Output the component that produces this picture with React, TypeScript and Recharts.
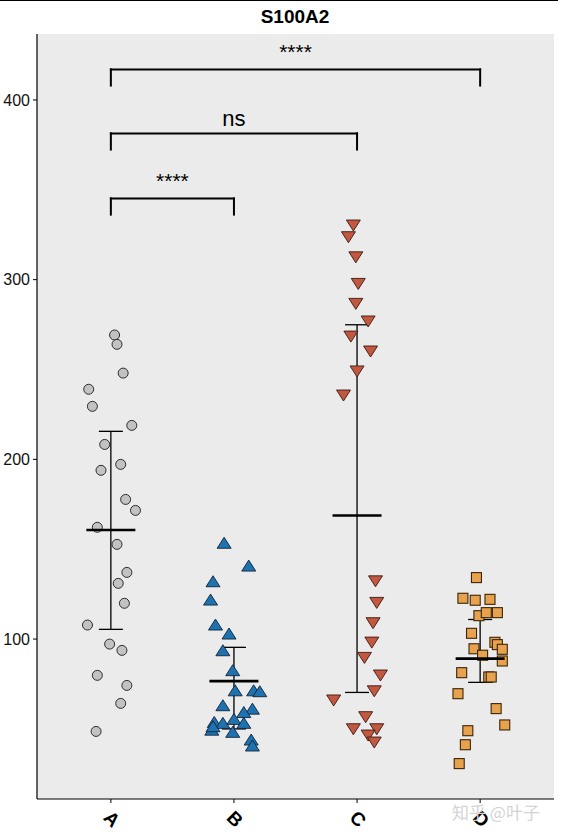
import { ScatterChart, Scatter, XAxis, YAxis, ErrorBar, ReferenceLine, CartesianGrid } from 'recharts';

const groups = ['A', 'B', 'C', 'D'];

// values and horizontal jitter (in category units)
const aValues = [269.2, 264.0, 248.0, 239.0, 229.5, 218.9, 208.3, 197.2, 193.9, 177.7, 171.6, 162.2, 152.7, 137.1, 131.0, 119.9, 107.8, 97.2, 93.7, 79.8, 74.2, 64.2, 48.6];
const aJitter = [0.03, 0.05, 0.1, -0.18, -0.15, 0.17, -0.05, 0.08, -0.08, 0.12, 0.2, -0.11, 0.05, 0.13, 0.06, 0.11, -0.19, -0.01, 0.09, -0.11, 0.13, 0.08, -0.12];

const bValues = [153.3, 140.6, 131.9, 121.7, 107.8, 102.8, 93.5, 82.4, 71.2, 71.2, 70.7, 62.9, 61.0, 59.1, 53.6, 49.3, 53.1, 55.3, 53.1, 48.1, 43.8, 40.5, 51.2];
const bJitter = [-0.08, 0.12, -0.17, -0.19, -0.15, -0.04, -0.09, -0.01, 0.01, 0.16, 0.21, -0.09, 0.15, 0.08, -0.16, -0.18, -0.09, 0.0, 0.08, -0.01, 0.14, 0.15, -0.17];

const cValues = [330.4, 323.9, 312.7, 297.9, 286.8, 277.0, 268.6, 260.3, 249.2, 235.8, 132.4, 120.4, 109.1, 98.3, 89.8, 80.0, 71.2, 66.1, 56.8, 50.1, 50.1, 46.6, 42.7];
const cJitter = [-0.03, -0.07, -0.01, 0.01, -0.01, 0.09, -0.05, 0.11, 0.0, -0.11, 0.15, 0.16, 0.13, 0.12, 0.06, 0.19, 0.14, -0.19, 0.07, -0.03, 0.16, 0.09, 0.14];

const dValues = [134.2, 122.7, 121.6, 122.1, 113.0, 114.7, 114.7, 103.2, 98.2, 96.9, 94.3, 94.6, 91.0, 87.8, 81.3, 78.9, 78.9, 69.6, 61.3, 52.2, 49.0, 41.2, 30.7];
const dJitter = [-0.03, -0.14, -0.04, 0.08, -0.01, 0.05, 0.14, -0.07, 0.12, 0.14, 0.18, -0.05, 0.02, 0.18, -0.15, 0.07, 0.09, -0.18, 0.13, 0.2, -0.1, -0.12, -0.17];

// summary bars
const means = [160.7, 76.6, 168.8, 89.1];
const lows = [105.4, 50.0, 70.3, 75.9];
const highs = [215.6, 95.4, 274.9, 110.9];

const comparisons = [
  { from: 1, to: 4, y: 417.0, label: '****' },
  { from: 1, to: 3, y: 381.4, label: 'ns' },
  { from: 1, to: 2, y: 345.2, label: '****' },
];
const bracketDrop = 9;

const yTicks = [100, 200, 300, 400];

const FONT = '"Liberation Sans", Arial, sans-serif';

const toPoints = (vals: number[], jit: number[], i: number) =>
  vals.map((y, k) => ({ x: i + 1 + jit[k], y }));

const pointsA = toPoints(aValues, aJitter, 0);
const pointsB = toPoints(bValues, bJitter, 1);
const pointsC = toPoints(cValues, cJitter, 2);
const pointsD = toPoints(dValues, dJitter, 3);

const summary = groups.map((g, i) => ({
  x: i + 1,
  y: means[i],
  err: [means[i] - lows[i], highs[i] - means[i]],
}));

const labels = comparisons.map((c) => ({ x: (c.from + c.to) / 2, y: c.y, text: c.label }));

const Circle = (p: any) => (
  <circle cx={p.cx} cy={p.cy} r={5} fill="#C2C2C2" stroke="#1a1a1a" strokeWidth={0.9} />
);
const TriUp = (p: any) => (
  <polygon
    points={`${p.cx},${p.cy - 6} ${p.cx + 7},${p.cy + 5} ${p.cx - 7},${p.cy + 5}`}
    fill="#1F72B0"
    stroke="#10243a"
    strokeWidth={0.9}
  />
);
const TriDown = (p: any) => (
  <polygon
    points={`${p.cx - 7},${p.cy - 5} ${p.cx + 7},${p.cy - 5} ${p.cx},${p.cy + 6}`}
    fill="#C2583F"
    stroke="#3a1a12"
    strokeWidth={0.9}
  />
);
const Square = (p: any) => (
  <rect x={p.cx - 5} y={p.cy - 5} width={10} height={10} fill="#E8A24E" stroke="#3a2508" strokeWidth={1.1} />
);
const MeanLine = (p: any) => (
  <line x1={p.cx - 24.5} x2={p.cx + 24.5} y1={p.cy} y2={p.cy} stroke="#000" strokeWidth={2.6} />
);
const SigLabel = (p: any) => {
  const ns = p.payload.text === 'ns';
  return (
    <text
      x={p.cx}
      y={ns ? p.cy - 7 : p.cy - 10}
      textAnchor="middle"
      fontSize={ns ? 22 : 21}
      fontFamily={FONT}
      fill="#000"
    >
      {p.payload.text}
    </text>
  );
};

const XTick = ({ x, y, payload }: any) => (
  <g transform={`translate(${x + 1},${y + 14})`}>
    <text
      transform="rotate(45)"
      textAnchor="middle"
      dominantBaseline="central"
      fontSize={19}
      fontWeight="bold"
      fontFamily={FONT}
      fill="#000"
    >
      {groups[payload.value - 1]}
    </text>
  </g>
);

export default function App() {
  return (
    <div style={{ position: 'relative', width: 564, height: 837, background: '#fff' }}>
      <style>{'body{margin:0}'}</style>
      <ScatterChart width={564} height={837} margin={{ top: 34, right: 10, bottom: 0, left: 0 }}>
        <CartesianGrid horizontal={false} vertical={false} fill="#EBEBEB" />
        <XAxis
          type="number"
          dataKey="x"
          domain={[0.4, 4.6]}
          ticks={[1, 2, 3, 4]}
          allowDataOverflow
          height={38}
          axisLine={{ stroke: '#000', strokeWidth: 1.2 }}
          tickLine={{ stroke: '#000' }}
          tickSize={4}
          tick={<XTick />}
        />
        <YAxis
          type="number"
          dataKey="y"
          domain={[11, 436.7]}
          ticks={yTicks}
          allowDataOverflow
          width={37}
          axisLine={{ stroke: '#000', strokeWidth: 1.2 }}
          tickLine={{ stroke: '#000' }}
          tickSize={4}
          tickMargin={3}
          tick={{ fill: '#111', fontSize: 16, fontFamily: FONT }}
        />
        <Scatter data={pointsA} shape={Circle} isAnimationActive={false} />
        <Scatter data={pointsB} shape={TriUp} isAnimationActive={false} />
        <Scatter data={pointsC} shape={TriDown} isAnimationActive={false} />
        <Scatter data={pointsD} shape={Square} isAnimationActive={false} />
        <Scatter data={summary} shape={MeanLine} isAnimationActive={false}>
          <ErrorBar dataKey="err" direction="y" width={12} stroke="#000" strokeWidth={1.3} />
        </Scatter>
        {comparisons.map((c, k) => (
          <ReferenceLine
            key={`h${k}`}
            segment={[{ x: c.from, y: c.y }, { x: c.to, y: c.y }]}
            stroke="#000"
            strokeWidth={2}
            strokeLinecap="square"
          />
        ))}
        {comparisons.map((c, k) => (
          <ReferenceLine
            key={`l${k}`}
            segment={[{ x: c.from, y: c.y }, { x: c.from, y: c.y - bracketDrop }]}
            stroke="#000"
            strokeWidth={2}
            strokeLinecap="square"
          />
        ))}
        {comparisons.map((c, k) => (
          <ReferenceLine
            key={`r${k}`}
            segment={[{ x: c.to, y: c.y }, { x: c.to, y: c.y - bracketDrop }]}
            stroke="#000"
            strokeWidth={2}
            strokeLinecap="square"
          />
        ))}
        <Scatter data={labels} shape={SigLabel} isAnimationActive={false} />
      </ScatterChart>
      <svg
        width={564}
        height={837}
        style={{ position: 'absolute', left: 0, top: 0, pointerEvents: 'none' }}
      >
        <line x1={0} x2={558} y1={0.5} y2={0.5} stroke="#000" strokeWidth={1.2} />
        <text x={295} y={23} textAnchor="middle" fontSize={19} fontWeight="bold" fontFamily={FONT} fill="#000">
          S100A2
        </text>
        <text x={452} y={819} fontSize={17} fontFamily='"Noto Sans CJK SC", sans-serif' fill="#d4d4d4">
          知乎 @叶子
        </text>
      </svg>
    </div>
  );
}
